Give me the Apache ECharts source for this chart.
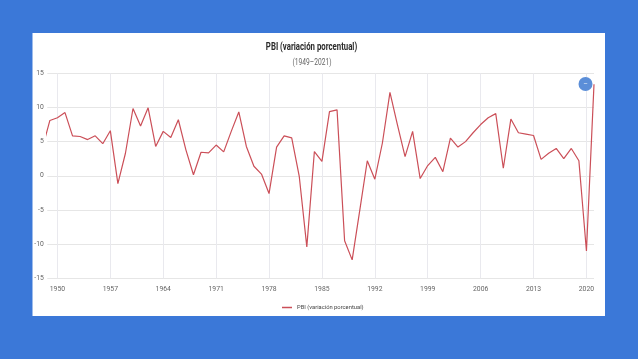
<!DOCTYPE html>
<html><head><meta charset="utf-8">
<style>html,body{margin:0;padding:0;background:#3b78d8;overflow:hidden}#c{width:638px;height:359px;filter:blur(0.45px)}</style>
<script src="https://cdn.jsdelivr.net/npm/echarts@6/dist/echarts.min.js"></script>
</head><body><div id="c"></div>
<script>
const years = [1948,1949,1950,1951,1952,1953,1954,1955,1956,1957,1958,1959,1960,1961,1962,1963,1964,1965,1966,1967,1968,1969,1970,1971,1972,1973,1974,1975,1976,1977,1978,1979,1980,1981,1982,1983,1984,1985,1986,1987,1988,1989,1990,1991,1992,1993,1994,1995,1996,1997,1998,1999,2000,2001,2002,2003,2004,2005,2006,2007,2008,2009,2010,2011,2012,2013,2014,2015,2016,2017,2018,2019,2020,2021];
const pbi = [4.0,8.1,8.5,9.25,5.85,5.75,5.3,5.85,4.7,6.6,-1.15,3.3,9.85,7.3,9.95,4.3,6.5,5.6,8.2,3.8,0.15,3.45,3.35,4.5,3.5,6.5,9.35,4.3,1.4,0.25,-2.6,4.2,5.85,5.55,-0.1,-10.4,3.55,2.1,9.4,9.65,-9.5,-12.3,-5.1,2.2,-0.5,4.8,12.2,7.4,2.8,6.5,-0.4,1.5,2.7,0.6,5.5,4.2,5.0,6.3,7.5,8.5,9.1,1.1,8.3,6.3,6.1,5.9,2.4,3.3,4.0,2.5,4.0,2.2,-11.0,13.4];
const xTicks = [1950,1957,1964,1971,1978,1985,1992,1999,2006,2013,2020];
const yMin = -15, yMax = 15, yStep = 5;
const chartTitle = 'PBI (variación porcentual)';
const chartSub = '(1949–2021)';
const font = 'Roboto,"Noto Sans",sans-serif';
const chart = echarts.init(document.getElementById('c'), null, {renderer:'canvas'});
chart.setOption({
  animation:false,
  backgroundColor:'#3b78d8',
  legend:{top:304.5,left:282,padding:0,itemWidth:10,itemHeight:1.5,itemGap:1,
    textStyle:{fontFamily:font,fontSize:5.8,color:'#444'},
    icon:'rect',data:['PBI (variación porcentual)']},
  grid:{left:47.3,right:44,top:73.3,bottom:80.7},
  xAxis:{type:'value',min:1948.66,max:2021,
    axisLine:{show:false},
    axisTick:{show:false,customValues:xTicks},
    axisLabel:{customValues:xTicks,formatter:v=>String(v),fontFamily:font,fontSize:6.8,color:'#666',margin:8},
    splitLine:{show:true,customValues:xTicks,lineStyle:{color:'#e9e9ee',width:1}}},
  yAxis:{type:'value',min:yMin,max:yMax,interval:yStep,
    axisLine:{show:false},axisTick:{show:false},
    axisLabel:{fontFamily:font,fontSize:6.8,color:'#666',margin:3.5},
    splitLine:{lineStyle:{color:'#e6e6e6',width:1}}},
  series:[{name:'PBI (variación porcentual)',type:'line',showSymbol:false,symbol:'none',clip:true,
    data:years.map((y,i)=>[y,pbi[i]]),
    lineStyle:{color:'#cb4f58',width:1.2},itemStyle:{color:'#cb4f58'}}],
  graphic:[
    {type:'rect',z:-1,silent:true,shape:{x:32.5,y:33,width:572.5,height:283},style:{fill:'#fff'}},
    {type:'text',z:10,silent:true,x:311.5,y:47,scaleX:0.71,style:{text:chartTitle,fill:'#2b2b2b',font:'bold 11px '+font,align:'center',verticalAlign:'middle'}},
    {type:'text',z:10,silent:true,x:312,y:62.5,scaleX:0.74,style:{text:chartSub,fill:'#666',font:'9px '+font,align:'center',verticalAlign:'middle'}},
    {type:'circle',z:100,silent:true,shape:{cx:585.5,cy:84,r:7},style:{fill:'#5b8ed8'}},
    {type:'text',z:101,silent:true,x:585.5,y:84,style:{text:'−',fill:'#dfe9f8',font:'8px '+font,align:'center',verticalAlign:'middle'}}
  ]
});
</script></body></html>
